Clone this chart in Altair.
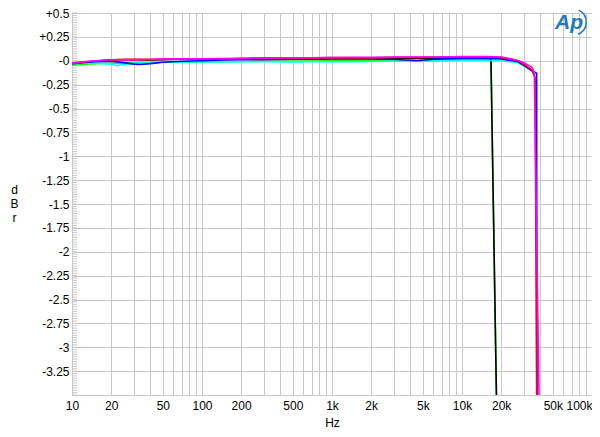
import altair as alt
import pandas as pd

# ---------------- data ----------------
f_black = [10, 12, 15, 20, 25, 30, 40, 50, 70, 100, 150, 200, 300, 500, 700, 1000, 1500, 2000, 3000, 5000, 7000, 10000, 14000, 16700, 18500]
db_black = [-0.025, -0.015, -0.005, 0.01, 0.012, 0.01, 0.008, 0.012, 0.015, 0.015, 0.015, 0.018, 0.02, 0.02, 0.022, 0.025, 0.025, 0.025, 0.025, 0.025, 0.025, 0.025, 0.025, 0.025, -3.7]

f_green = [10, 12, 15, 20, 25, 30, 40, 50, 70, 100, 150, 200, 300, 500, 700, 1000, 1500, 2000, 3000, 5000, 7000, 10000, 14000, 16700, 18500]
db_green = [-0.045, -0.038, -0.032, -0.027, -0.024, -0.02, -0.018, -0.015, -0.013, -0.012, -0.01, -0.008, -0.006, -0.004, -0.002, 0.0, 0.0, 0.0, 0.0, 0.002, 0.003, 0.005, 0.005, 0.005, -3.7]

f_magenta = [10, 12, 15, 20, 25, 30, 40, 50, 70, 100, 150, 200, 300, 500, 700, 1000, 1500, 2000, 3000, 5000, 7000, 10000, 15000, 20000, 26000, 30000, 34500, 36000, 39200]
db_magenta = [-0.025, -0.012, 0.0, 0.008, 0.01, 0.012, 0.015, 0.018, 0.02, 0.02, 0.022, 0.025, 0.028, 0.03, 0.03, 0.035, 0.035, 0.035, 0.038, 0.04, 0.04, 0.045, 0.045, 0.04, 0.01, -0.02, -0.07, -0.12, -3.6]

f_red = [10, 12, 15, 20, 25, 30, 40, 50, 70, 100, 150, 200, 300, 500, 700, 1000, 1500, 2000, 3000, 5000, 7000, 10000, 15000, 20000, 27000, 31000, 34500, 36500, 37600]
db_red = [-0.03, -0.015, -0.002, 0.01, 0.012, 0.015, 0.012, 0.015, 0.018, 0.02, 0.02, 0.022, 0.03, 0.025, 0.028, 0.03, 0.03, 0.03, 0.035, 0.035, 0.038, 0.04, 0.04, 0.035, 0.0, -0.05, -0.1, -0.18, -3.7]

f_blue = [10, 12, 15, 20, 25, 30, 33, 40, 50, 70, 100, 150, 200, 300, 500, 700, 1000, 1500, 2000, 3000, 4500, 6000, 7000, 10000, 15000, 20000, 27000, 31000, 35000, 37500, 37700]
db_blue = [-0.03, -0.02, -0.01, -0.005, -0.02, -0.035, -0.04, -0.03, -0.015, -0.005, 0.0, 0.008, 0.01, 0.012, 0.015, 0.015, 0.02, 0.02, 0.02, 0.015, 0.0, 0.015, 0.02, 0.025, 0.025, 0.02, -0.01, -0.06, -0.11, -0.13, -3.7]

f_cyan = [10, 12, 15, 20, 22, 25, 30, 40, 50, 70, 100, 150, 200, 300, 500, 700, 1000, 1500, 2000, 3000, 5000, 7000, 10000, 15000, 20000, 27000, 31000, 35000, 37000, 37600]
db_cyan = [-0.03, -0.025, -0.02, -0.035, -0.05, -0.04, -0.025, -0.02, -0.015, -0.012, -0.01, -0.01, -0.01, -0.01, -0.012, -0.01, -0.01, -0.01, -0.008, -0.005, -0.005, 0.0, 0.005, 0.005, 0.0, -0.02, -0.07, -0.12, -0.2, -3.7]

# draw order (bottom to top)
series = [
    ("green", "#00ff00", f_green, db_green),
    ("black", "#000000", f_black, db_black),
    ("cyan", "#00ffff", f_cyan, db_cyan),
    ("blue", "#0000ff", f_blue, db_blue),
    ("red", "#ff0000", f_red, db_red),
    ("magenta", "#ff00ff", f_magenta, db_magenta),
]

x_label_values = [10, 20, 50, 100, 200, 500, 1000, 2000, 5000, 10000, 20000, 50000, 100000]
x_label_texts = ["10", "20", "50", "100", "200", "500", "1k", "2k", "5k", "10k", "20k", "50k", "100k"]
x_grid_values = [m * 10 ** e for e in range(1, 5) for m in range(1, 10)] + [100000]

y_tick_values = [0.5, 0.25, 0, -0.25, -0.5, -0.75, -1, -1.25, -1.5, -1.75, -2, -2.25, -2.5, -2.75, -3, -3.25, -3.5]
y_tick_texts = ["+0.5", "+0.25", "-0", "-0.25", "-0.5", "-0.75", "-1", "-1.25", "-1.5", "-1.75", "-2", "-2.25", "-2.5", "-2.75", "-3", "-3.25", ""]
y_minor_ticks = [round(-3.5 + 0.025 * i, 3) for i in range(161)]

GRID = "#c8c8c8"
FONT = "Liberation Sans"


def x_label_expr():
    expr = "''"
    for v, t in reversed(list(zip(x_label_values, x_label_texts))):
        expr = f"abs(datum.value / {v} - 1) < 1e-6 ? '{t}' : ({expr})"
    return expr


def y_label_expr():
    expr = "''"
    for v, t in reversed(list(zip(y_tick_values, y_tick_texts))):
        expr = f"abs(datum.value - ({v})) < 1e-6 ? '{t}' : ({expr})"
    return expr


x_scale = alt.Scale(type="log", domain=[10, 100000], nice=False)
y_scale = alt.Scale(domain=[-3.5, 0.5], nice=False, zero=False)

x_axis = alt.Axis(
    values=x_grid_values, labelExpr=x_label_expr(), title="Hz",
    grid=True, gridColor=GRID, gridWidth=1, ticks=False, tickSize=0,
    domainColor=GRID, labelFont=FONT, labelFontSize=12, labelColor="black",
    labelPadding=5, labelOverlap=False, labelFlush=False,
    labelAlign={"condition": {"test": "datum.value >= 99999", "value": "right"}, "value": "center"},
    titleFont=FONT, titleFontSize=12, titleFontWeight="normal", titleColor="black",
    titleY=31, titleBaseline="alphabetic",
)
y_axis = alt.Axis(
    values=y_tick_values, labelExpr=y_label_expr(), title=["d", "B", "r"],
    grid=True, gridColor=GRID, gridWidth=1, ticks=False, tickSize=0,
    domainColor=GRID, labelFont=FONT, labelFontSize=12, labelColor="black",
    labelPadding=3, labelOverlap=False,
    titleFont=FONT, titleFontSize=12, titleFontWeight="normal", titleColor="black",
    titleAngle=0, titleX=-58, titleY=180, titleAlign="center", titleBaseline="alphabetic",
    titleLineHeight=14,
)

layers = []

minor_df = pd.DataFrame({"v": y_minor_ticks})
minor = alt.Chart(minor_df).mark_rule(color=GRID, strokeWidth=1).encode(
    y=alt.Y("v:Q", scale=y_scale, axis=y_axis),
    x=alt.value(0), x2=alt.value(5),
)
layers.append(minor)

for name, color, fs, dbs in series:
    df = pd.DataFrame({"f": fs, "db": dbs, "s": name})
    ln = alt.Chart(df).mark_line(color=color, strokeWidth=1.6, clip=True).encode(
        x=alt.X("f:Q", scale=x_scale, axis=x_axis),
        y=alt.Y("db:Q", scale=y_scale, axis=y_axis),
    )
    layers.append(ln)

logo_df = pd.DataFrame({"t": ["Ap"]})
logo_text = alt.Chart(logo_df).mark_text(
    font=FONT, fontSize=21, fontStyle="italic", fontWeight="bold", color="#2277bb",
    align="center", baseline="middle",
).encode(text="t:N", x=alt.value(497), y=alt.value(10))
logo_arc = alt.Chart(logo_df).mark_arc(
    radius=14, radius2=12.5, theta=0.45, theta2=2.75, color="#2277bb"
).encode(x=alt.value(501), y=alt.value(9))
layers += [logo_text, logo_arc]

chart = alt.layer(*layers).properties(
    width=520, height=382,
    autosize=alt.AutoSizeParams(type="none"),
    padding={"left": 64, "top": 5, "right": 0, "bottom": 34},
).configure_view(stroke=GRID).configure(background="white")

chart.save("out.html", embed_options={"renderer": "svg", "actions": False})
